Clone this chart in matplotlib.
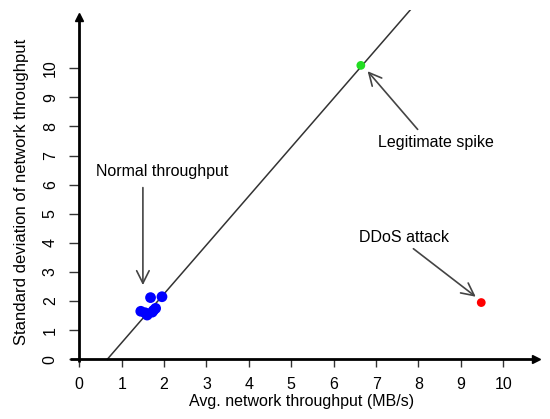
import matplotlib
matplotlib.use("Agg")
import matplotlib.pyplot as plt
from matplotlib import font_manager

# ---------------- data ----------------
normal_x = [1.45, 1.55, 1.60, 1.68, 1.75, 1.80, 1.95, 1.72]
normal_y = [1.65, 1.60, 1.52, 2.12, 1.68, 1.75, 2.15, 1.62]
spike_x = [6.64]
spike_y = [10.1]
ddos_x = [9.48]
ddos_y = [1.95]
line_slope = 1.68
line_x0 = 0.66          # x where the fitted line crosses y = 0
x_ticks = list(range(0, 11))
y_ticks = list(range(0, 11))
xlabel = "Avg. network throughput (MB/s)"
ylabel = "Standard deviation of network throughput"

names = {f.name for f in font_manager.fontManager.ttflist}
narrow = "Liberation Sans Narrow" if "Liberation Sans Narrow" in names else "Liberation Sans"
plt.rcParams['font.family'] = ['Liberation Sans', 'DejaVu Sans']

W, H = 550, 419
fig = plt.figure(figsize=(W / 100, H / 100), dpi=100)
# pixel mapping: x=0 -> 79.3px, 42.4 px/unit ; y=0 -> 359.3px, 29.1 px/unit
xlim = (-0.5, 11.0)
ylim = (-0.5, 12.0)
px_x, px_y = 42.4, 29.1
left = 79.3 + xlim[0] * px_x
right = 79.3 + xlim[1] * px_x
bottom = 359.3 - ylim[0] * px_y
top = 359.3 - ylim[1] * px_y
ax = fig.add_axes([left / W, 1 - bottom / H, (right - left) / W, (bottom - top) / H])
ax.set_xlim(*xlim)
ax.set_ylim(*ylim)

# axes as arrows
for s in ['top', 'right']:
    ax.spines[s].set_visible(False)
ax.spines['left'].set_position(('data', 0))
ax.spines['bottom'].set_position(('data', 0))
ax.spines['left'].set_bounds(-0.1, 11.7)
ax.spines['bottom'].set_bounds(-0.22, 10.75)
for s in ['left', 'bottom']:
    ax.spines[s].set_linewidth(2.0)
    ax.spines[s].set_capstyle('butt')
ax.plot([10.78], [0], marker='>', color='black', markersize=6, clip_on=False)
ax.plot([0], [11.75], marker='^', color='black', markersize=6, clip_on=False)

ax.set_xticks(x_ticks)
ax.set_yticks(y_ticks)
ax.tick_params(axis='x', length=5.5, width=1.0, color='#333333', labelsize=11.5, pad=7)
ax.tick_params(axis='y', length=7.5, width=1.0, color='#333333', labelsize=11.5, pad=8)
for lab in ax.get_yticklabels():
    lab.set_rotation(90)
    lab.set_va('center')

ax.set_xlabel(xlabel, fontsize=11.5, labelpad=2)
fig.text(22 / W, 1 - 192 / H, ylabel, rotation=90, ha='center', va='center',
         fontsize=12, family=[narrow, 'DejaVu Sans'])

# fitted line
y_end = ylim[1]
lx = [line_x0, line_x0 + y_end / line_slope]
ly = [0, y_end]
ax.plot(lx, ly, color='#333333', lw=1.1)

# points
ax.scatter(normal_x, normal_y, s=60, color='#0000ff', zorder=3, edgecolors='none')
ax.scatter(spike_x, spike_y, s=40, color='#22dd22', zorder=3, edgecolors='none')
ax.scatter(ddos_x, ddos_y, s=40, color='#ff0000', zorder=3, edgecolors='none')

arrow = dict(arrowstyle='->,head_length=0.9,head_width=0.45', color='#444444', lw=1.2,
             shrinkA=0, shrinkB=0)
ax.annotate("", xy=(1.5, 2.55), xytext=(1.5, 5.9), arrowprops=arrow)
ax.text(1.95, 6.45, "Normal throughput", ha='center', va='center', fontsize=11.5)

ax.annotate("", xy=(6.8, 9.9), xytext=(7.98, 7.9), arrowprops=arrow)
ax.text(8.4, 7.45, "Legitimate spike", ha='center', va='center', fontsize=11.5)

ax.annotate("", xy=(9.35, 2.15), xytext=(7.88, 3.8), arrowprops=arrow)
ax.text(7.65, 4.2, "DDoS attack", ha='center', va='center', fontsize=11.5)

fig.savefig("out.png", dpi=100)
